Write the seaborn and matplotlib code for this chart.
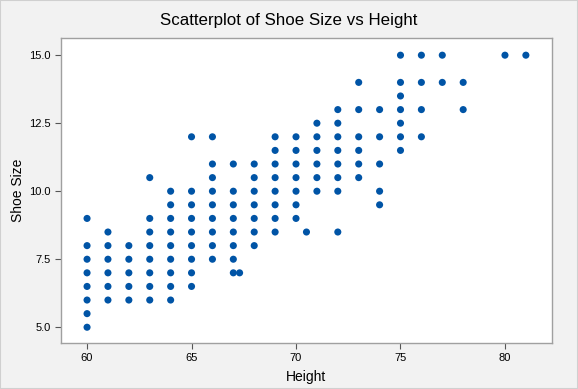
import matplotlib
matplotlib.use("Agg")
import matplotlib.pyplot as plt
import seaborn as sns
import pandas as pd
from matplotlib.ticker import FormatStrFormatter

sns.set_style("white")
plt.rcParams["font.family"] = ["Liberation Sans", "DejaVu Sans"]
plt.rcParams["text.color"] = "black"
plt.rcParams["axes.labelcolor"] = "black"
plt.rcParams["xtick.labelcolor"] = "black"
plt.rcParams["ytick.labelcolor"] = "black"

# values, one column of dots at a time
height = ([60] * 8 + [61] * 6 + [62] * 5 + [63] * 8 + [64] * 9 + [65] * 9 +
          [66] * 9 + [67] * 8 + [67.3] + [68] * 7 + [69] * 8 + [70] * 7 +
          [70.5] + [71] * 6 + [72] * 8 + [73] * 6 + [74] * 5 + [75] * 7 +
          [76] * 4 + [77] * 2 + [78] * 2 + [80] + [81])
shoe_size = [9, 8, 7.5, 7, 6.5, 6, 5.5, 5,
             8.5, 8, 7.5, 7, 6.5, 6,
             8, 7.5, 7, 6.5, 6,
             10.5, 9, 8.5, 8, 7.5, 7, 6.5, 6,
             10, 9.5, 9, 8.5, 8, 7.5, 7, 6.5, 6,
             12, 10, 9.5, 9, 8.5, 8, 7.5, 7, 6.5,
             12, 11, 10.5, 10, 9.5, 9, 8.5, 8, 7.5,
             11, 10, 9.5, 9, 8.5, 8, 7.5, 7,
             7,
             11, 10.5, 10, 9.5, 9, 8.5, 8,
             12, 11.5, 11, 10.5, 10, 9.5, 9, 8.5,
             12, 11.5, 11, 10.5, 10, 9.5, 9,
             8.5,
             12.5, 12, 11.5, 11, 10.5, 10,
             13, 12.5, 12, 11.5, 11, 10.5, 10, 8.5,
             14, 13, 12, 11.5, 11, 10.5,
             13, 12, 11, 10, 9.5,
             15, 14, 13.5, 13, 12.5, 12, 11.5,
             15, 14, 13, 12,
             15, 14,
             14, 13,
             15,
             15]
x_ticks = [60, 65, 70, 75, 80]
y_ticks = [5.0, 7.5, 10.0, 12.5, 15.0]

df = pd.DataFrame({"Height": height, "Shoe Size": shoe_size})

fig = plt.figure(figsize=(5.78, 3.89), dpi=100, facecolor="#f2f2f2")
ax = fig.add_axes([0.1047, 0.1175, 0.8503, 0.784])
sns.scatterplot(data=df, x="Height", y="Shoe Size", ax=ax, color="#0054a6",
                s=26, edgecolor="none", linewidth=0)

ax.set_xlim(58.73, 82.25)
ax.set_ylim(4.41, 15.62)
ax.set_xticks(x_ticks)
ax.set_yticks(y_ticks)
ax.yaxis.set_major_formatter(FormatStrFormatter("%.1f"))
ax.tick_params(axis="both", direction="out", length=4, width=0.8,
               color="#555555", labelsize=8, pad=3, bottom=True, left=True)
for sp in ax.spines.values():
    sp.set_color("#a0a0a0")
    sp.set_linewidth(1.0)

ax.set_xlabel("Height", fontsize=10, labelpad=5)
ax.set_ylabel("Shoe Size", fontsize=10, labelpad=3)
fig.text(0.5, 0.927, "Scatterplot of Shoe Size vs Height", ha="center",
         va="bottom", fontsize=12.2)

# thin frame round the whole picture
fig.patches.append(plt.Rectangle((0, 0), 1, 1, transform=fig.transFigure,
                                 fill=False, edgecolor="#d0d0d0", linewidth=1.5))

fig.savefig("out.png", dpi=100, facecolor=fig.get_facecolor())
